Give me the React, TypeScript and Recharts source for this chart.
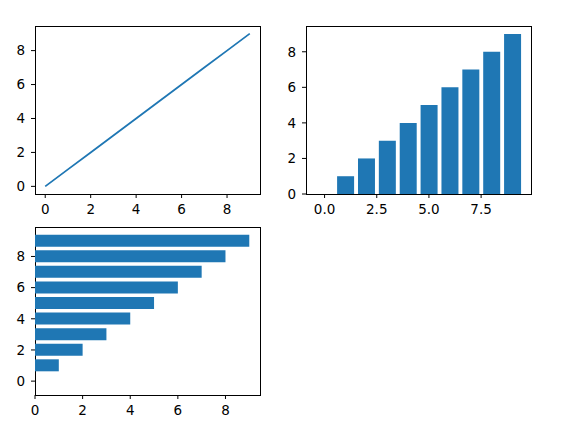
import React from "react";
import {
  LineChart,
  Line,
  BarChart,
  Bar,
  XAxis,
  YAxis,
  ReferenceArea,
} from "recharts";

// values
const positions = [0, 1, 2, 3, 4, 5, 6, 7, 8, 9];
const lineValues = [0, 1, 2, 3, 4, 5, 6, 7, 8, 9];
const barValues = [0, 1, 2, 3, 4, 5, 6, 7, 8, 9];
const hbarValues = [0, 1, 2, 3, 4, 5, 6, 7, 8, 9];

const intTicks = [0, 2, 4, 6, 8];
const halfTicks = [0, 2.5, 5, 7.5];

const lineDomain: [number, number] = [-0.45, 9.45];
const barPosDomain: [number, number] = [-0.89, 9.89];
const barValDomain: [number, number] = [0, 9.45];

const lineData = positions.map((x, i) => ({ x, y: lineValues[i] }));
const barData = positions.map((x, i) => ({ x, y: barValues[i] }));
const hbarData = positions.map((y, i) => ({ y, w: hbarValues[i] }));

const BLUE = "#1f77b4";
const tickStyle = { fill: "#000", fontSize: 13.5, fontFamily: "DejaVu Sans" };
const tickLine = { stroke: "#000", strokeWidth: 1 };
const W = 280;
const H = 230;
const margin = { top: 26, right: 20, left: 0, bottom: 6 };

const Frame = ({ x, y }: { x: [number, number]; y: [number, number] }) => (
  <ReferenceArea
    x1={x[0]}
    x2={x[1]}
    y1={y[0]}
    y2={y[1]}
    fill="none"
    stroke="#000"
    strokeWidth={1}
    shapeRendering="crispEdges"
  />
);

export default function App() {
  return (
    <div
      style={{
        position: "absolute",
        left: 0,
        top: 0,
        width: 566,
        height: 430,
        background: "#fff",
      }}
    >
      <div style={{ position: "absolute", left: 0, top: 0 }}>
        <LineChart width={W} height={H} data={lineData} margin={margin}>
          <XAxis
            dataKey="x"
            type="number"
            domain={lineDomain}
            ticks={intTicks}
            allowDataOverflow
            axisLine={false}
            tickLine={tickLine}
            tickSize={4}
            tickMargin={6}
            tick={tickStyle}
            height={30}
            interval={0}
          />
          <YAxis
            type="number"
            domain={lineDomain}
            ticks={intTicks}
            allowDataOverflow
            axisLine={false}
            tickLine={tickLine}
            tickSize={4}
            tickMargin={6}
            tick={tickStyle}
            width={35}
            interval={0}
          />
          {Frame({ x: lineDomain, y: lineDomain })}
          <Line
            dataKey="y"
            stroke={BLUE}
            strokeWidth={1.8}
            dot={false}
            isAnimationActive={false}
          />
        </LineChart>
      </div>

      <div style={{ position: "absolute", left: 271, top: 0 }}>
        <BarChart width={W} height={H} data={barData} margin={margin} barCategoryGap="10%">
          <XAxis
            dataKey="x"
            type="number"
            domain={barPosDomain}
            ticks={halfTicks}
            allowDataOverflow
            axisLine={false}
            tickLine={tickLine}
            tickSize={4}
            tickMargin={6}
            tick={tickStyle}
            tickFormatter={(v: number) => v.toFixed(1)}
            height={30}
            interval={0}
          />
          <YAxis
            type="number"
            domain={barValDomain}
            ticks={intTicks}
            allowDataOverflow
            axisLine={false}
            tickLine={tickLine}
            tickSize={4}
            tickMargin={6}
            tick={tickStyle}
            width={35}
            interval={0}
          />
          <Bar dataKey="y" fill={BLUE} isAnimationActive={false} />
          {Frame({ x: barPosDomain, y: barValDomain })}
        </BarChart>
      </div>

      <div style={{ position: "absolute", left: 0, top: 201 }}>
        <BarChart
          width={W}
          height={H}
          data={hbarData}
          margin={margin}
          layout="vertical"
          barCategoryGap="10%"
        >
          <XAxis
            type="number"
            domain={barValDomain}
            ticks={intTicks}
            allowDataOverflow
            axisLine={false}
            tickLine={tickLine}
            tickSize={4}
            tickMargin={6}
            tick={tickStyle}
            height={30}
            interval={0}
          />
          <YAxis
            dataKey="y"
            type="number"
            domain={barPosDomain}
            ticks={intTicks}
            reversed
            allowDataOverflow
            axisLine={false}
            tickLine={tickLine}
            tickSize={4}
            tickMargin={6}
            tick={tickStyle}
            width={35}
            interval={0}
          />
          <Bar dataKey="w" fill={BLUE} isAnimationActive={false} />
          {Frame({ x: barValDomain, y: barPosDomain })}
        </BarChart>
      </div>
    </div>
  );
}
